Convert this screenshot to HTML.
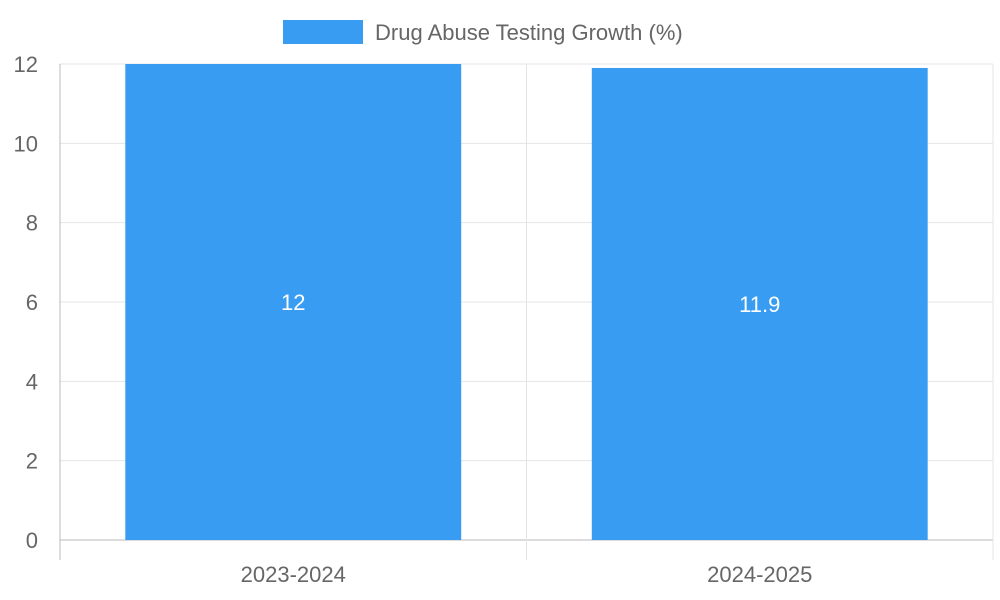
<!DOCTYPE html>
<html><head><meta charset="utf-8">
<style>
html,body{margin:0;padding:0;background:#fff;}
svg{display:block;font-family:"Liberation Sans",sans-serif;}
</style></head>
<body>
<svg id="chart" width="1000" height="600" viewBox="0 0 1000 600">
  <g>
    <rect x="283" y="20" width="80" height="24" fill="#389cf2"/>
    <text x="375" y="40" font-size="22" fill="#666">Drug Abuse Testing Growth (%)</text>
  </g>
  <g id="grid"></g>
  <g id="bars"></g>
  <g id="axes"></g>
</svg>
<script>
const categories = ["2023-2024", "2024-2025"];
const values = [12, 11.9];
const yTicks = [0, 2, 4, 6, 8, 10, 12];

const NS = "http://www.w3.org/2000/svg";
const L = 60, R = 993, T = 64, B = 540, yMax = 12;
const y = v => B - (v / yMax) * (B - T);
const catW = (R - L) / categories.length;
const x = i => L + catW * i;
function mk(tag, attrs, parent, txt) {
  const e = document.createElementNS(NS, tag);
  for (const k in attrs) e.setAttribute(k, attrs[k]);
  if (txt !== undefined) e.textContent = txt;
  parent.appendChild(e);
  return e;
}
const grid = document.getElementById("grid");
const bars = document.getElementById("bars");
const axes = document.getElementById("axes");

yTicks.forEach(t => {
  const gl = mk("line", {x1: L, x2: R, y1: y(t), y2: y(t), stroke: t === 0 ? "#bbb" : "#e4e4e4", "stroke-width": 1}, grid);
  
  
  const tl = mk("text", {x: 38, y: y(t) + 8, "font-size": 22, fill: "#666", "text-anchor": "end"}, axes, String(t));
  
  
});
for (let i = 0; i <= categories.length; i++) {
  const vl = mk("line", {x1: x(i), x2: x(i), y1: T, y2: B + 20, stroke: i === 0 ? "#bbb" : "#e4e4e4", "stroke-width": 1}, grid);
  
  
}
categories.forEach((c, i) => {
  const bw = catW * 0.72;
  const bx = x(i) + (catW - bw) / 2;
  const r = mk("rect", {x: bx, y: y(values[i]), width: bw, height: B - y(values[i]), fill: "#389cf2"}, bars);
  
  
  const vt = mk("text", {x: bx + bw / 2, y: (y(values[i]) + B) / 2 + 8, "font-size": 22, fill: "#fff", "text-anchor": "middle"}, bars, String(values[i]));
  
  
  const xl = mk("text", {x: x(i) + catW / 2, y: 582, "font-size": 22, fill: "#666", "text-anchor": "middle"}, axes, c);
  
  
});
const ax = mk("line", {x1: L, x2: L, y1: T, y2: B, stroke: "#bbb", "stroke-width": 1}, axes);


</script>
</body></html>
